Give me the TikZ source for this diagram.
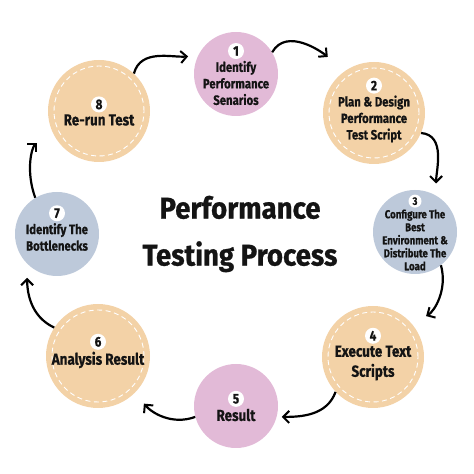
\documentclass[tikz,border=0pt]{standalone}
\usepackage{fontspec}
\setmainfont{Fira Sans}[FakeStretch=0.84, BoldFeatures={FakeBold=0.6}]
\newfontfamily\ptptitlefont{Fira Sans}[FakeStretch=0.92, BoldFeatures={FakeBold=0.8}]
\usepackage{xcolor}
\usetikzlibrary{arrows.meta,positioning}
\definecolor{ptppink}{HTML}{E2BAD7}
\definecolor{ptppeach}{HTML}{F3D2A7}
\definecolor{ptpblue}{HTML}{BDC9DA}
\definecolor{ptpink}{HTML}{141414}
\tikzset{
  ptp stage/.style={
    circle,
    inner sep=0pt,
    minimum size=#1,
    draw=none,
  },
  ptp stitched/.style={
    path picture={
      \draw[white, line width=0.9pt, dash pattern=on 5pt off 3.5pt]
        (path picture bounding box.center) circle (#1);
    },
  },
  ptp text/.style={
    align=center,
    inner sep=0pt,
    text=ptpink,
    font=\bfseries\fontsize{13.5}{16.5}\selectfont,
  },
  ptp big/.style={
    font=\bfseries\fontsize{16}{20}\selectfont,
  },
  ptp small/.style={
    font=\bfseries\fontsize{11.5}{13}\selectfont,
  },
  ptp number/.style={
    circle,
    fill=white,
    inner sep=0pt,
    minimum size=16pt,
    text=ptpink,
    font=\bfseries\fontsize{14}{14}\selectfont,
  },
  ptp arrow/.style={
    -{Straight Barb[length=6pt,width=12pt,line width=2pt]},
    line width=2.2pt,
    black,
  },
}

\begin{document}
\begin{tikzpicture}[x=1pt, y=1pt, node distance=1.5pt]
  \useasboundingbox (0,0) rectangle (474,474);

  \node[ptp stage=84pt, fill=ptppink] (s1) at (236,400) {};
  \node[ptp stage=102pt, fill=ptppeach, ptp stitched=45pt] (s2) at (374,361) {};
  \node[ptp stage=84pt, fill=ptpblue] (s3) at (415,242) {};
  \node[ptp stage=102pt, fill=ptppeach, ptp stitched=45pt] (s4) at (373,117) {};
  \node[ptp stage=84pt, fill=ptppink] (s5) at (236,68) {};
  \node[ptp stage=104pt, fill=ptppeach, ptp stitched=46pt] (s6) at (98,118) {};
  \node[ptp stage=84pt, fill=ptpblue] (s7) at (57,240) {};
  \node[ptp stage=102pt, fill=ptppeach, ptp stitched=45pt] (s8) at (99,363) {};

  \node[ptp text] (t1) at ([yshift=-9pt]s1.center) {Identify\\Performance\\Senarios};
  \node[ptp text] (t2) at ([yshift=-6pt]s2.center) {Plan \& Design\\Performance\\Test Script};
  \node[ptp text, ptp small] (t3) at ([yshift=-8pt]s3.center) {Configure The\\Best\\Environment \&\\Distribute The\\Load};
  \node[ptp text, ptp big] (t4) at ([yshift=-6pt]s4.center) {Execute Text\\Scripts};
  \node[ptp text, ptp big] (t5) at ([yshift=-9pt]s5.center) {Result};
  \node[ptp text, ptp big] (t6) at ([yshift=-4pt]s6.center) {Analysis Result};
  \node[ptp text] (t7) at ([yshift=-3pt]s7.center) {Identify The\\Bottlenecks};
  \node[ptp text, ptp big] (t8) at ([yshift=-9pt]s8.center) {Re-run Test};

  \node[ptp number, above=of t1] (n1) {1};
  \node[ptp number, above=of t2] (n2) {2};
  \node[ptp number, above=of t3, minimum size=13pt, font=\bfseries\fontsize{11}{11}\selectfont] (n3) {3};
  \node[ptp number, above=of t4] (n4) {4};
  \node[ptp number, above=of t5] (n5) {5};
  \node[ptp number, above=of t6] (n6) {6};
  \node[ptp number, above=of t7] (n7) {7};
  \node[ptp number, above=of t8] (n8) {8};

  \node[align=center, text=ptpink, font=\ptptitlefont\bfseries\fontsize{30}{47}\selectfont]
    (title) at (240,240) {Performance\\Testing Process};

  \draw[ptp arrow, shorten >=10pt] (s8.47) to[out=75, in=185] (s1.154);
  \draw[ptp arrow, shorten >=22pt] (s1.31) to[out=60, in=140] (s2.125);
  \draw[ptp arrow, shorten >=12pt] (s2.-23) to[out=-5, in=90] (s3.60);
  \draw[ptp arrow, shorten >=16pt] (s3.-52) to[out=-75, in=30] (s4.40);
  \draw[ptp arrow, shorten >=5pt] (s4.223) to[out=250, in=0] (s5.-15);
  \draw[ptp arrow, shorten >=14pt] (s5.195) to[out=200, in=-50] (s6.-45);
  \draw[ptp arrow, shorten >=14pt] (s6.147) to[out=155, in=-90] (s7.225);
  \draw[ptp arrow, shorten >=20pt] (s7.121) to[out=110, in=225] (s8.200);
\end{tikzpicture}
\end{document}
